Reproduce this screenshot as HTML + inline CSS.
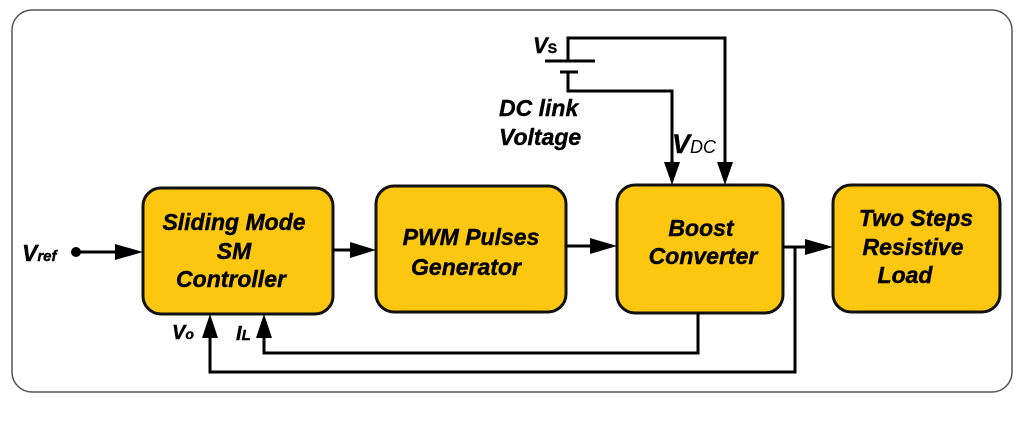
<!DOCTYPE html>
<html><head><style>
body{margin:0;background:#fff;}
svg{display:block;}
text{font-family:"Liberation Sans",Arial,sans-serif;font-weight:bold;font-style:italic;fill:#000;}
</style></head><body>
<svg width="1032" height="424" viewBox="0 0 1032 424" xmlns="http://www.w3.org/2000/svg">
<rect x="12" y="10" width="1000" height="382" rx="20" fill="none" stroke="#555" stroke-width="1.5"/>
<g fill="#FDC60F" stroke="#111" stroke-width="3">
<rect x="143" y="188" width="190" height="126" rx="18"/>
<rect x="376" y="186" width="190" height="126" rx="18"/>
<rect x="617" y="185" width="166" height="128" rx="18"/>
<rect x="833" y="185" width="167" height="127" rx="18"/>
</g>
<g stroke="#000" stroke-width="3" fill="none">
<line x1="76" y1="252" x2="115" y2="252"/>
<line x1="333" y1="250" x2="350" y2="250"/>
<line x1="566" y1="246" x2="590" y2="246"/>
<line x1="783" y1="247" x2="805" y2="247"/>
<polyline points="698,313 698,353 264,353 264,338"/>
<polyline points="795,247 795,372 210,372 210,338"/>
<polyline points="568,60 568,38 725,38 725,162"/>
<polyline points="568,72 568,91 672,91 672,162"/>
<line x1="545" y1="61" x2="595" y2="61"/>
<line x1="560" y1="72" x2="578" y2="72"/>
</g>
<circle cx="76" cy="252" r="5"/>
<g>
<path d="M115,244L143,252L115,260z"/>
<path d="M350,242L376,250L350,258z"/>
<path d="M590,238L617,246L590,254z"/>
<path d="M805,239L833,247L805,255z"/>
<path d="M202,338L210,314L218,338z"/>
<path d="M256,338L264,314L272,338z"/>
<path d="M664,162L672,185L680,162z"/>
<path d="M717,162L725,185L733,162z"/>
</g>
<g font-size="23" text-anchor="middle" stroke="#000" stroke-width="0.4">
<text x="234" y="230">Sliding Mode</text>
<text x="234" y="259">SM</text>
<text x="231" y="287">Controller</text>
<text x="471" y="245">PWM Pulses</text>
<text x="466" y="275">Generator</text>
<text x="701" y="236">Boost</text>
<text x="703" y="264">Converter</text>
<text x="916" y="226">Two Steps</text>
<text x="913" y="255">Resistive</text>
<text x="905" y="283">Load</text>
</g>
<g stroke="#000" stroke-width="0.4">
<text x="22" y="261" font-size="23">V<tspan font-size="15">ref</tspan></text>
<text x="172" y="339" font-size="20">V<tspan font-size="14">o</tspan></text>
<text x="236" y="340" font-size="20">I<tspan font-size="15">L</tspan></text>
<text x="533" y="53" font-size="22">V<tspan font-size="14" font-style="normal">S</tspan></text>
<text x="499" y="116" font-size="23">DC link</text>
<text x="499" y="145" font-size="23">Voltage</text>
<text x="672" y="153" font-size="27">V<tspan font-size="18" font-weight="normal" stroke-width="0">DC</tspan></text>
</g>
</svg>
</body></html>
